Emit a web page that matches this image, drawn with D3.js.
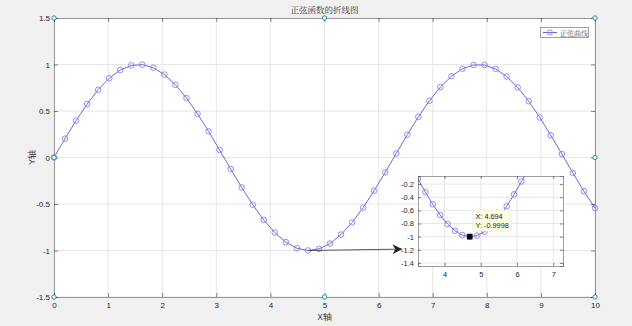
<!DOCTYPE html>
<html><head><meta charset="utf-8">
<script src="https://cdn.jsdelivr.net/npm/d3@7"></script>
<style>html,body{margin:0;padding:0;background:#f0f0f0;}svg{display:block;}</style>
</head><body>
<svg id="c" width="632" height="326"></svg>
<script>
const xValues = [0, 0.2041, 0.4082, 0.6122, 0.8163, 1.0204, 1.2245, 1.4286, 1.6327, 1.8367, 2.0408, 2.2449, 2.4490, 2.6531, 2.8571, 3.0612, 3.2653, 3.4694, 3.6735, 3.8776, 4.0816, 4.2857, 4.4898, 4.6939, 4.8980, 5.1020, 5.3061, 5.5102, 5.7143, 5.9184, 6.1224, 6.3265, 6.5306, 6.7347, 6.9388, 7.1429, 7.3469, 7.5510, 7.7551, 7.9592, 8.1633, 8.3673, 8.5714, 8.7755, 8.9796, 9.1837, 9.3878, 9.5918, 9.7959, 10];
const yValues = [0, 0.2027, 0.3969, 0.5747, 0.7286, 0.8523, 0.9406, 0.9899, 0.9981, 0.9648, 0.8916, 0.7813, 0.6386, 0.4693, 0.2806, 0.0803, -0.1234, -0.3220, -0.5072, -0.6713, -0.8076, -0.9103, -0.9753, -0.9998, -0.9828, -0.9250, -0.8289, -0.6983, -0.5387, -0.3568, -0.1600, 0.0433, 0.2449, 0.4363, 0.6096, 0.7576, 0.8742, 0.9545, 0.9951, 0.9945, 0.9526, 0.8711, 0.7535, 0.6046, 0.4306, 0.2388, 0.0370, -0.1663, -0.3627, -0.5440];
const xTicks = [0,1,2,3,4,5,6,7,8,9,10];
const yTicks = [-1.5,-1,-0.5,0,0.5,1,1.5];
const yTickLabels = ["-1.5","-1","-0.5","0","0.5","1","1.5"];
const insetXTicks = [4,5,6,7];
const insetYTicks = [-1.4,-1.2,-1,-0.8,-0.6,-0.4,-0.2];
const insetYTickLabels = ["-1.4","-1.2","-1","-0.8","-0.6","-0.4","-0.2"];
const anchorPoints = [[0,1.5],[5,1.5],[10,1.5],[0,0],[10,0],[0,-1.5],[5,-1.5],[10,-1.5]];
const tipPoint = {x: 4.694, y: -0.9998};
const titleText = "正弦函数的折线图";
const xLabel = "X轴", yLabel = "Y轴", legendLabel = "正弦曲线";

const svg = d3.select("#c");
const sans = "'Liberation Sans', Arial, sans-serif";
const serif = "'Noto Serif CJK SC','Noto Sans CJK SC', serif";
const lineColor = "#5a5ac8", markColor = "#8282ee";

const L=54, R=595, T=18, B=297;
const x = d3.scaleLinear().domain([0,10]).range([L,R]);
const y = d3.scaleLinear().domain([-1.5,1.5]).range([B,T]);

svg.append("rect").attr("x",L).attr("y",T).attr("width",R-L).attr("height",B-T).attr("fill","#fff");
const g = svg.append("g");
g.selectAll(".gx").data(xTicks).enter().append("line").attr("x1",d=>x(d)).attr("x2",d=>x(d)).attr("y1",T).attr("y2",B).attr("stroke","#e6e6e6").attr("stroke-width",1);
g.selectAll(".gy").data(yTicks).enter().append("line").attr("y1",d=>y(d)).attr("y2",d=>y(d)).attr("x1",L).attr("x2",R).attr("stroke","#e6e6e6").attr("stroke-width",1);

function styleAxis(sel, fs){
  sel.select(".domain").attr("stroke","#262626").attr("stroke-width",0.8).attr("opacity",0.55);
  sel.selectAll(".tick line").attr("stroke","#262626").attr("opacity",0.55);
  sel.selectAll(".tick text").attr("font-family",sans).attr("font-size",fs).attr("fill","#262626");
}
const ax = svg.append("g").attr("transform",`translate(0,${B})`).call(d3.axisBottom(x).tickValues(xTicks).tickSize(-4).tickPadding(5).tickFormat(d3.format("d")));
styleAxis(ax,8);
const axT = svg.append("g").attr("transform",`translate(0,${T})`).call(d3.axisTop(x).tickValues(xTicks).tickSize(-4).tickFormat(""));
styleAxis(axT,8);
const ay = svg.append("g").attr("transform",`translate(${L},0)`).call(d3.axisLeft(y).tickValues(yTicks).tickSize(-4).tickPadding(4).tickFormat((d,i)=>yTickLabels[i]));
styleAxis(ay,8);
const ayR = svg.append("g").attr("transform",`translate(${R},0)`).call(d3.axisRight(y).tickValues(yTicks).tickSize(-4).tickFormat(""));
styleAxis(ayR,8);

const lineGen = d3.line().x((d,i)=>x(xValues[i])).y(d=>y(d));
svg.append("path").datum(yValues).attr("d",lineGen).attr("fill","none").attr("stroke",lineColor).attr("stroke-width",0.9);
svg.selectAll(".m").data(yValues).enter().append("circle").attr("cx",(d,i)=>x(xValues[i])).attr("cy",d=>y(d)).attr("r",2.8).attr("fill","none").attr("stroke",markColor).attr("stroke-width",0.9);

svg.selectAll(".a").data(anchorPoints).enter().append("circle").attr("cx",d=>x(d[0])).attr("cy",d=>y(d[1])).attr("r",2.2).attr("fill","#e8f4f6").attr("stroke","#3a8fa6").attr("stroke-width",1);

svg.append("text").attr("x",(L+R)/2).attr("y",13).attr("text-anchor","middle").attr("font-family",serif).attr("font-size",8.5).attr("fill","#333").text(titleText);
svg.append("text").attr("x",(L+R)/2).attr("y",320).attr("text-anchor","middle").attr("font-family",sans).attr("font-size",8.5).attr("fill","#333").text(xLabel);
svg.append("text").attr("transform",`translate(35,${(T+B)/2}) rotate(-90)`).attr("text-anchor","middle").attr("font-family",sans).attr("font-size",8.5).attr("fill","#333").text(yLabel);

const lg = svg.append("g");
lg.append("rect").attr("x",540.5).attr("y",27.5).attr("width",48).attr("height",10).attr("fill","#fff").attr("stroke","#8a8a8a").attr("stroke-width",0.8);
lg.append("line").attr("x1",543).attr("x2",557).attr("y1",32.5).attr("y2",32.5).attr("stroke",lineColor).attr("stroke-width",0.9);
lg.append("circle").attr("cx",550).attr("cy",32.5).attr("r",2.5).attr("fill","none").attr("stroke",markColor).attr("stroke-width",0.9);
lg.append("text").attr("x",560).attr("y",35.5).attr("font-family",serif).attr("font-size",7).attr("fill","#555").text(legendLabel);

svg.append("defs").append("marker").attr("id","ah").attr("viewBox","0 0 10 10").attr("refX",10).attr("refY",5).attr("markerWidth",10).attr("markerHeight",10).attr("markerUnits","userSpaceOnUse").attr("orient","auto")
  .append("path").attr("d","M0,0 L10,5 L0,10 L3,5 Z").attr("fill","#222");
svg.append("line").attr("x1",x(tipPoint.x)).attr("y1",y(-1.0)).attr("x2",x(6.44)).attr("y2",y(-0.985)).attr("stroke","#444").attr("stroke-width",0.9).attr("marker-end","url(#ah)");

const iL=418, iR=563, iT=176, iB=266;
const xi = d3.scaleLinear().domain([3.2653,7.27]).range([iL,iR]);
const yi = d3.scaleLinear().domain([-1.446,-0.077]).range([iB,iT]);
const ig = svg.append("g");
ig.append("rect").attr("x",iL).attr("y",iT).attr("width",iR-iL).attr("height",iB-iT).attr("fill","#fff");
ig.selectAll(".gx").data(insetXTicks).enter().append("line").attr("x1",d=>xi(d)).attr("x2",d=>xi(d)).attr("y1",iT).attr("y2",iB).attr("stroke","#e6e6e6");
ig.selectAll(".gy").data(insetYTicks).enter().append("line").attr("y1",d=>yi(d)).attr("y2",d=>yi(d)).attr("x1",iL).attr("x2",iR).attr("stroke","#e6e6e6");
svg.append("clipPath").attr("id","ic").append("rect").attr("x",iL).attr("y",iT).attr("width",iR-iL).attr("height",iB-iT);
const iline = d3.line().x((d,i)=>xi(xValues[i])).y(d=>yi(d));
const cg = ig.append("g").attr("clip-path","url(#ic)");
cg.append("path").datum(yValues).attr("d",iline).attr("fill","none").attr("stroke",lineColor).attr("stroke-width",0.9);
cg.selectAll(".m").data(yValues).enter().append("circle").attr("cx",(d,i)=>xi(xValues[i])).attr("cy",d=>yi(d)).attr("r",2.8).attr("fill","none").attr("stroke",markColor).attr("stroke-width",0.9);
const iax = ig.append("g").attr("transform",`translate(0,${iB})`).call(d3.axisBottom(xi).tickValues(insetXTicks).tickSize(-3).tickPadding(6).tickFormat(d3.format("d")));
styleAxis(iax,7.5);
const iaxT = ig.append("g").attr("transform",`translate(0,${iT})`).call(d3.axisTop(xi).tickValues(insetXTicks).tickSize(-3).tickFormat(""));
styleAxis(iaxT,7.5);
const iay = ig.append("g").attr("transform",`translate(${iL},0)`).call(d3.axisLeft(yi).tickValues(insetYTicks).tickSize(-3).tickPadding(4).tickFormat((d,i)=>insetYTickLabels[i]));
styleAxis(iay,7.5);
const iayR = ig.append("g").attr("transform",`translate(${iR},0)`).call(d3.axisRight(yi).tickValues(insetYTicks).tickSize(-3).tickFormat(""));
styleAxis(iayR,7.5);
[iax,iaxT,iay,iayR].forEach(a=>a.select(".domain").attr("opacity",0.7).attr("stroke","#555"));

ig.append("rect").attr("x",473).attr("y",210).attr("width",38).attr("height",21).attr("fill","#fdfde6").attr("stroke","#e8e8d0").attr("stroke-width",0.6);
ig.append("text").attr("x",475.5).attr("y",218.5).attr("font-family",sans).attr("font-size",7.3).attr("fill","#222").text("X: " + tipPoint.x.toFixed(3));
ig.append("text").attr("x",475.5).attr("y",228).attr("font-family",sans).attr("font-size",7.3).attr("fill","#222").text("Y: " + tipPoint.y.toFixed(4));
ig.append("rect").attr("x",xi(tipPoint.x)-2.8).attr("y",yi(tipPoint.y)-2.8).attr("width",5.6).attr("height",5.6).attr("fill","#000");
</script>
</body></html>
